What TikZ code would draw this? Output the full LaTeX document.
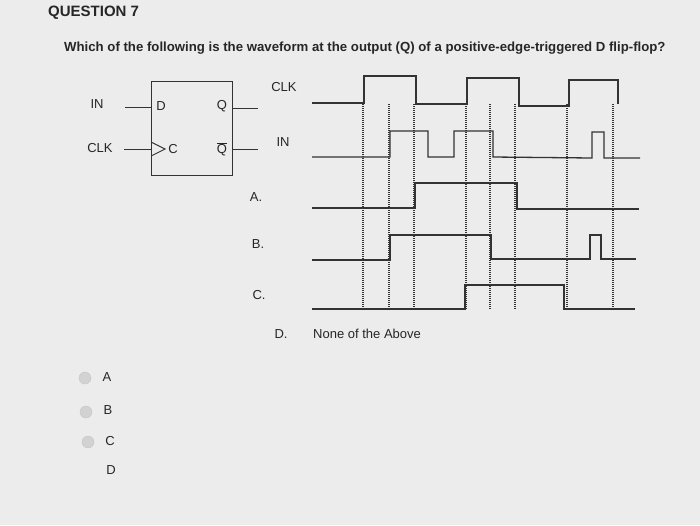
\documentclass[tikz,border=0pt]{standalone}
\usepackage{fontspec}
\setmainfont{Liberation Sans}
\begin{document}
\begin{tikzpicture}[x=1pt,y=-1pt,
  wave/.style={draw=black!80,line width=1.3pt},
  dot/.style={draw=black!80,line width=1.6pt,dash pattern=on 1pt off 1pt},
  lbl/.style={font=\fontsize{13}{15}\selectfont,text=black!85,inner sep=0pt},
  wire/.style={draw=black!80,line width=0.9pt},
  radio/.style={circle,fill=gray!35,draw=gray!45,minimum size=12pt,inner sep=0pt}]
\fill[gray!15] (0,0) rectangle (700,525);
\useasboundingbox (0,0) rectangle (700,525);
\node[lbl,anchor=west,font=\bfseries\fontsize{15}{17}\selectfont] (title) at (48,13) {QUESTION 7};
\node[lbl,anchor=west,font=\bfseries\fontsize{13.2}{15}\selectfont] (q) at (64,48) {Which of the following is the waveform at the output (Q) of a positive-edge-triggered D flip-flop?};
% flip-flop
\node[draw=black!80,line width=0.9pt,minimum width=81pt,minimum height=94pt,inner sep=0pt] (ff) at (191.5,128) {};
\coordinate (dpin) at (151,107); \coordinate (cpin) at (151,149);
\coordinate (qpin) at (232,108); \coordinate (qbpin) at (232,149);
\coordinate (din) at (125,107); \coordinate (cin) at (124,149);
\coordinate (qout) at (258,108); \coordinate (qbout) at (258,149);
\draw[wire] (din) -- (dpin); \draw[wire] (cin) -- (cpin);
\draw[wire] (qpin) -- (qout); \draw[wire] (qbpin) -- (qbout);
\draw[wire] (151,142) -- (165,149) -- (151,156);
\node[lbl] (inl) at (97,104) {IN};
\node[lbl] (clkl) at (100,148) {CLK};
\node[lbl] (dl) at (161,106) {D};
\node[lbl] (cl) at (173,149) {C};
\node[lbl] (ql) at (222,106) {Q};
\node[lbl] (qbl) at (222,149) {$\overline{\mbox{Q}}$};
\node[lbl] (clkw) at (284,87) {CLK};
\node[lbl] (inw) at (283,142) {IN};
\node[lbl] (al) at (256,197) {A.};
\node[lbl] (bl) at (258,244) {B.};
\node[lbl] (cwl) at (259,295) {C.};
\node[lbl] (dwl) at (281,334) {D.};
\node[lbl,anchor=west] (none) at (313,334) {None of the Above};
% dotted lines
\foreach \x in {363,389,414,466,490,515,567,613}
  \draw[dot] (\x,104) -- (\x,309);
% waves
\draw[wave] (312,103) -- (364,103) -- (364,76) -- (416,76) -- (416,104) -- (467,104) -- (467,78) -- (519,78) -- (519,106) -- (569,106) -- (569,80) -- (618,80) -- (618,104);
\draw[wave] (312,157) -- (390,157) -- (390,131) -- (428,131) -- (428,157) -- (454,157) -- (454,131) -- (493,131) -- (493,157) -- (592,158) -- (592,132) -- (604,132) -- (604,158) -- (640,158);
\draw[wave] (312,208) -- (415,208) -- (415,183) -- (517,183) -- (517,209) -- (639,209);
\draw[wave] (312,260) -- (390,260) -- (390,235) -- (491,235) -- (491,259) -- (590,259) -- (590,235) -- (601,235) -- (601,259) -- (636,259);
\draw[wave] (312,309) -- (465,309) -- (465,285) -- (564,285) -- (564,309) -- (635,309);
% radios
\node[radio] (ra) at (85,378) {};
\node[radio] (rb) at (86,412) {};
\node[radio] (rc) at (88,442) {};
\node[lbl] (la) at (107,377) {A};
\node[lbl] (lb) at (108,410) {B};
\node[lbl] (lc) at (110,441) {C};
\node[lbl] (ld) at (111,470) {D};
\end{tikzpicture}
\end{document}
